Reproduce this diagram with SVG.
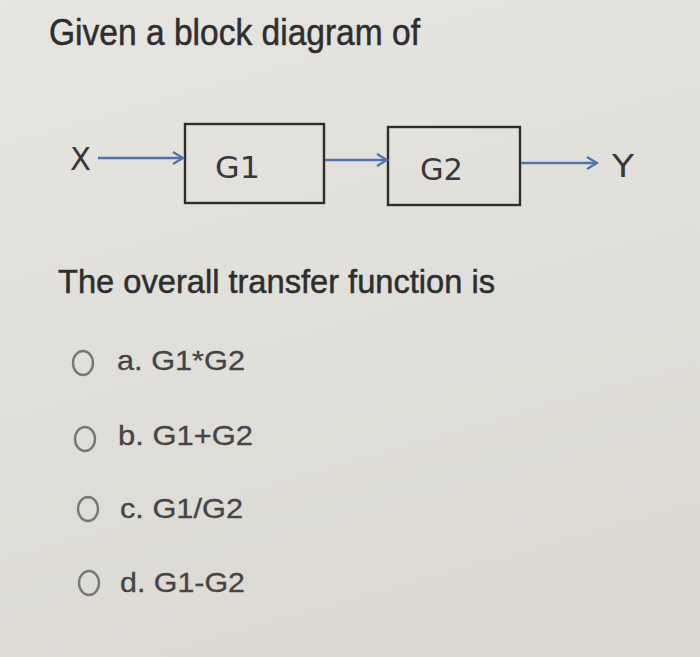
<svg xmlns="http://www.w3.org/2000/svg" width="700" height="657" viewBox="0 0 700 657">
<defs>
<linearGradient id="bg" x1="0" y1="0" x2="0.3" y2="1">
<stop offset="0" stop-color="#e6e5e1"/>
<stop offset="1" stop-color="#dcdad3"/>
</linearGradient>
<marker id="arr" markerWidth="14" markerHeight="14" refX="11" refY="7" orient="auto" markerUnits="userSpaceOnUse">
<path d="M1,1 L11,7 L1,13" fill="none" stroke="#4f74ad" stroke-width="2.2"/>
</marker>
</defs>
<style>
.q{font-family:"Liberation Sans",Arial,sans-serif;fill:#2e2e2e;stroke:#2e2e2e;stroke-width:0.5}
.opt{font-family:"Liberation Sans",Arial,sans-serif;font-size:28px;fill:#454545;stroke:#454545;stroke-width:0.3}
.lbl{font-family:"DejaVu Sans",sans-serif;fill:#383838}
.box{fill:none;stroke:#2e2e2e;stroke-width:2.4}
.wire{stroke:#4f74ad;stroke-width:2.4;fill:none;marker-end:url(#arr)}
.radio{fill:none;stroke:#777;stroke-width:2.4}
</style>
<rect width="700" height="657" fill="url(#bg)"/>
<text class="q" x="49" y="45" font-size="36" textLength="371" lengthAdjust="spacingAndGlyphs">Given a block diagram of</text>
<g id="input"><text class="lbl" x="70" y="170" font-size="32" textLength="21" lengthAdjust="spacingAndGlyphs">X</text></g>
<g id="G1">
<rect class="box" x="185" y="124" width="139" height="79"/>
<text class="lbl" x="215" y="178" font-size="30" textLength="45" lengthAdjust="spacingAndGlyphs">G1</text>
</g>
<g id="G2">
<rect class="box" x="388" y="127" width="132" height="78"/>
<text class="lbl" x="420" y="180" font-size="30" textLength="43" lengthAdjust="spacingAndGlyphs">G2</text>
</g>
<g id="output"><text class="lbl" x="612" y="177" font-size="32" textLength="22" lengthAdjust="spacingAndGlyphs">Y</text></g>
<g id="connectors">
<line class="wire" x1="98" y1="158" x2="183" y2="158"/>
<line class="wire" x1="325" y1="160" x2="387" y2="160"/>
<line class="wire" x1="521" y1="163" x2="597" y2="163"/>
</g>
<text class="q" x="58" y="293" font-size="33" textLength="437" lengthAdjust="spacingAndGlyphs">The overall transfer function is</text>
<g id="optA">
<ellipse class="radio" cx="83" cy="363" rx="10" ry="12"/>
<text class="opt" x="117" y="370" textLength="128" lengthAdjust="spacingAndGlyphs">a. G1*G2</text>
</g>
<g id="optB">
<ellipse class="radio" cx="85" cy="439" rx="10" ry="12"/>
<text class="opt" x="118" y="445" textLength="135" lengthAdjust="spacingAndGlyphs">b. G1+G2</text>
</g>
<g id="optC">
<ellipse class="radio" cx="88" cy="509" rx="10" ry="12"/>
<text class="opt" x="120" y="518" textLength="123" lengthAdjust="spacingAndGlyphs">c. G1/G2</text>
</g>
<g id="optD">
<ellipse class="radio" cx="89" cy="583" rx="10" ry="12"/>
<text class="opt" x="120" y="592" textLength="125" lengthAdjust="spacingAndGlyphs">d. G1-G2</text>
</g>
</svg>
